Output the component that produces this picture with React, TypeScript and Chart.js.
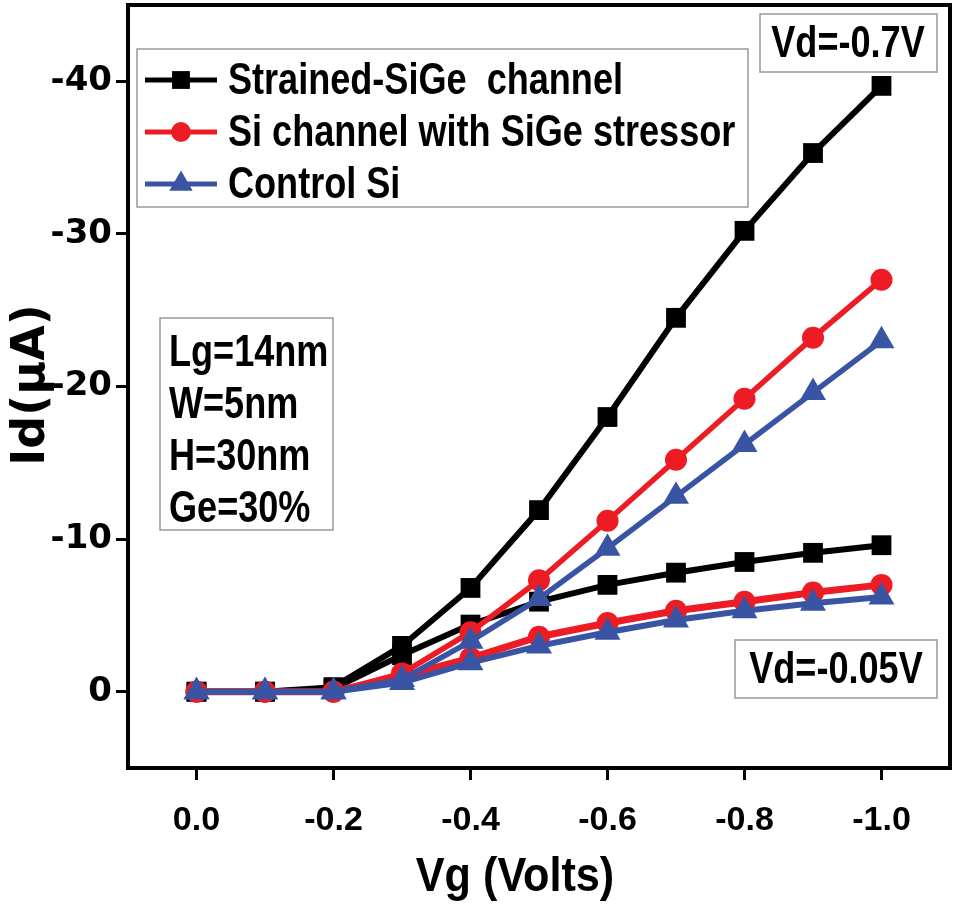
import React, { useEffect, useRef } from "react";
import { Chart, registerables } from "chart.js";

Chart.register(...registerables);

// ---- data (gate voltage in V, drain current in µA) ----
const vg = [0, -0.1, -0.2, -0.3, -0.4, -0.5, -0.6, -0.7, -0.8, -0.9, -1.0];
const strainedVd07 = [0, 0, -0.3, -3.0, -6.8, -11.9, -18.0, -24.5, -30.2, -35.3, -39.7];
const strainedVd005 = [0, 0, -0.2, -2.4, -4.4, -5.9, -7.0, -7.8, -8.5, -9.1, -9.6];
const stressorVd07 = [0, 0, 0, -1.2, -3.9, -7.3, -11.2, -15.2, -19.2, -23.2, -27.0];
const stressorVd005 = [0, 0, 0, -1.0, -2.2, -3.6, -4.5, -5.3, -5.9, -6.5, -7.0];
const controlVd07 = [0, 0, 0, -0.8, -3.3, -6.1, -9.4, -12.8, -16.2, -19.6, -23.0];
const controlVd005 = [0, 0, 0, -0.6, -1.9, -3.0, -3.9, -4.7, -5.3, -5.8, -6.2];

const seriesNames = ["Strained-SiGe  channel", "Si channel with SiGe stressor", "Control Si"];
const xTickValues = [0, -0.2, -0.4, -0.6, -0.8, -1.0];
const yTickValues = [0, -10, -20, -30, -40];
const paramLines = ["Lg=14nm", "W=5nm", "H=30nm", "Ge=30%"];
const vdHighLabel = "Vd=-0.7V";
const vdLowLabel = "Vd=-0.05V";
const xTitle = "Vg (Volts)";
const yTitle = "Id(\u03bcA)";

const BLACK = "#000000";
const RED = "#ED1C24";
const BLUE = "#3A54A4";
const SANS = '"Liberation Sans", Arial, sans-serif';
const WIDE = '"DejaVu Sans", sans-serif';
const CONDENSE = 0.82;

const styles = [
  { color: BLACK, pointStyle: "rect", radius: 14 },
  { color: RED, pointStyle: "circle", radius: 11 },
  { color: BLUE, pointStyle: "triangle", radius: 15 },
];

function pts(ys: number[]) {
  return ys.map((y, i) => ({ x: vg[i], y }));
}

function ds(label: string, ys: number[], s: number, width: number, order: number) {
  const st = styles[s];
  return {
    label,
    data: pts(ys),
    borderColor: st.color,
    backgroundColor: st.color,
    borderWidth: width,
    pointStyle: st.pointStyle,
    pointRadius: st.radius,
    pointBorderWidth: 0,
    pointBackgroundColor: st.color,
    order,
  };
}

function drawMarker(ctx: CanvasRenderingContext2D, style: string, x: number, y: number, r: number) {
  ctx.beginPath();
  if (style === "rect") {
    const s = r * Math.SQRT1_2;
    ctx.rect(x - s, y - s, 2 * s, 2 * s);
  } else if (style === "circle") {
    ctx.arc(x, y, r, 0, Math.PI * 2);
  } else {
    for (let k = 0; k < 3; k++) {
      const a = (k * 2 * Math.PI) / 3;
      const px = x + Math.sin(a) * r;
      const py = y - Math.cos(a) * r;
      if (k === 0) ctx.moveTo(px, py);
      else ctx.lineTo(px, py);
    }
    ctx.closePath();
  }
  ctx.fill();
}

// condensed bold text (horizontal scale), drawn as real text
function narrowText(ctx: CanvasRenderingContext2D, text: string, x: number, y: number, align: "left" | "center", k = CONDENSE) {
  ctx.save();
  ctx.translate(x, y);
  ctx.scale(k, 1);
  ctx.textAlign = align;
  ctx.fillText(text, 0, 0);
  ctx.restore();
}

const decorPlugin = {
  id: "decor",
  afterDraw(chart: any) {
    const ctx: CanvasRenderingContext2D = chart.ctx;
    const { left, top, right, bottom } = chart.chartArea;
    ctx.save();
    // frame
    ctx.strokeStyle = "#000";
    ctx.lineWidth = 4;
    ctx.strokeRect(left, top, right - left, bottom - top);

    const box = (x1: number, y1: number, x2: number, y2: number) => {
      ctx.fillStyle = "#fff";
      ctx.fillRect(x1, y1, x2 - x1, y2 - y1);
      ctx.strokeStyle = "#999";
      ctx.lineWidth = 1.5;
      ctx.strokeRect(x1, y1, x2 - x1, y2 - y1);
    };

    // legend
    box(137, 49, 748, 207);
    const rows = [80, 132, 184];
    ctx.font = `bold 44px ${SANS}`;
    ctx.textBaseline = "middle";
    seriesNames.forEach((name, i) => {
      const st = styles[i];
      ctx.strokeStyle = st.color;
      ctx.fillStyle = st.color;
      ctx.lineWidth = 5;
      ctx.beginPath();
      ctx.moveTo(145, rows[i]);
      ctx.lineTo(217, rows[i]);
      ctx.stroke();
      drawMarker(ctx, st.pointStyle, 181, rows[i], st.radius * 0.9);
      ctx.fillStyle = "#000";
      narrowText(ctx, name, 228, rows[i] + 2, "left");
    });

    // Vd boxes
    box(760, 14, 937, 72);
    ctx.fillStyle = "#000";
    narrowText(ctx, vdHighLabel, 848, 45, "center");
    box(735, 640, 937, 698);
    ctx.fillStyle = "#000";
    narrowText(ctx, vdLowLabel, 836, 671, "center");

    // params box
    box(160, 318, 333, 530);
    ctx.fillStyle = "#000";
    paramLines.forEach((t, i) => narrowText(ctx, t, 169, 354 + i * 52, "left"));

    // axis titles
    ctx.textBaseline = "alphabetic";
    ctx.font = `bold 48px ${SANS}`;
    narrowText(ctx, xTitle, 515, 891, "center", 0.9);

    ctx.save();
    ctx.translate(44, 385);
    ctx.rotate(-Math.PI / 2);
    ctx.textAlign = "center";
    ctx.font = `bold 46px ${WIDE}`;
    ctx.fillText(yTitle, 0, 0);
    ctx.restore();

    ctx.restore();
  },
};

export default function App() {
  const ref = useRef<HTMLCanvasElement | null>(null);
  useEffect(() => {
    if (!ref.current) return;
    const chart = new Chart(ref.current, {
      type: "line",
      data: {
        datasets: [
          ds(seriesNames[2] + " Vd=-0.7V", controlVd07, 2, 5.5, 0),
          ds(seriesNames[2] + " Vd=-0.05V", controlVd005, 2, 6, 1),
          ds(seriesNames[1] + " Vd=-0.7V", stressorVd07, 1, 5.5, 2),
          ds(seriesNames[1] + " Vd=-0.05V", stressorVd005, 1, 7, 3),
          ds(seriesNames[0] + " Vd=-0.7V", strainedVd07, 0, 6, 4),
          ds(seriesNames[0] + " Vd=-0.05V", strainedVd005, 0, 6, 5),
        ] as any,
      },
      options: {
        animation: false,
        responsive: false,
        maintainAspectRatio: false,
        layout: { autoPadding: false, padding: { top: 5, right: 7, left: 0, bottom: 0 } },
        plugins: { legend: { display: false }, tooltip: { enabled: false } },
        scales: {
          x: {
            type: "linear",
            reverse: true,
            min: -1.1,
            max: 0.1,
            afterBuildTicks: (s: any) => {
              s.ticks = xTickValues.map((v) => ({ value: v }));
            },
            afterFit: (s: any) => {
              s.height = 155;
              s.paddingLeft = 0;
              s.paddingRight = 0;
              s.paddingTop = 0;
              s.paddingBottom = 0;
            },
            border: { display: false },
            grid: { drawOnChartArea: false, drawTicks: true, tickLength: 12, lineWidth: 3, color: "#000" },
            ticks: {
              color: "#000",
              padding: 20,
              maxRotation: 0,
              autoSkip: false,
              font: { family: SANS, weight: "bold", size: 34 },
              callback: (v: any) => Number(v).toFixed(1),
            },
          },
          y: {
            type: "linear",
            reverse: true,
            min: -45,
            max: 5,
            afterBuildTicks: (s: any) => {
              s.ticks = yTickValues.map((v) => ({ value: v }));
            },
            afterFit: (s: any) => {
              s.width = 128;
              s.paddingLeft = 0;
              s.paddingRight = 0;
              s.paddingTop = 0;
              s.paddingBottom = 0;
            },
            border: { display: false },
            grid: { drawOnChartArea: false, drawTicks: true, tickLength: 12, lineWidth: 3, color: "#000" },
            ticks: {
              color: "#000",
              padding: 4,
              autoSkip: false,
              font: { family: WIDE, weight: "bold", size: 34 },
              callback: (v: any) => String(v),
            },
          },
        },
      },
      plugins: [decorPlugin],
    } as any);
    return () => chart.destroy();
  }, []);
  return (
    <div style={{ position: "absolute", left: 0, top: 0, width: 957, height: 923, background: "#fff" }}>
      <canvas ref={ref} width={957} height={923} style={{ width: 957, height: 923 }} />
    </div>
  );
}
